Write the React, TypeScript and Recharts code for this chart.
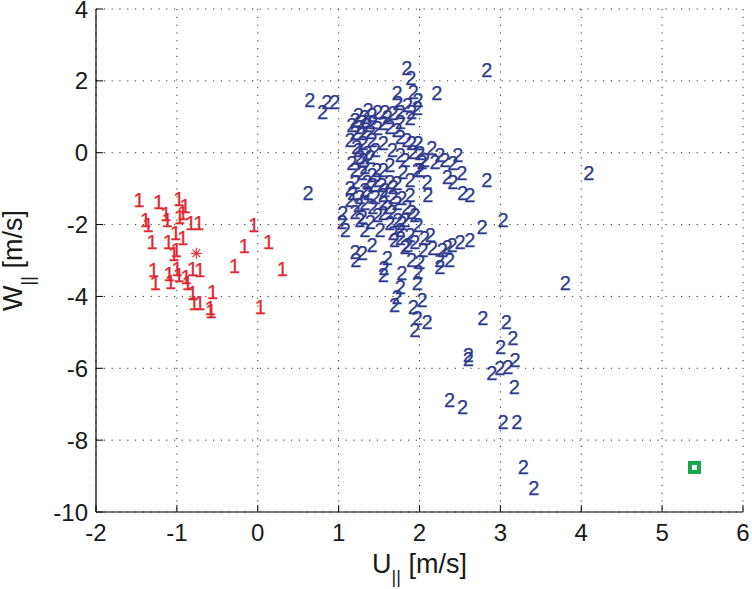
import React from "react";
import { ScatterChart, Scatter, XAxis, YAxis, CartesianGrid } from "recharts";

const xTicks = [-2, -1, 0, 1, 2, 3, 4, 5, 6];
const yTicks = [-10, -8, -6, -4, -2, 0, 2, 4];

// cluster "1" (u, w)
const group1: [number, number][] = [
  [-1.53, -1.3], [-1.29, -1.36], [-1.04, -1.27], [-0.96, -1.48], [-1.45, -1.87],
  [-1.42, -2.01], [-1.2, -1.69], [-1.18, -1.87], [-1.03, -1.78], [-0.99, -1.68],
  [-0.89, -1.96], [-0.79, -1.96], [-1.37, -2.48], [-1.17, -2.48], [-1.08, -2.24],
  [-0.99, -2.38], [-1.1, -2.8], [-1.07, -2.71], [-1.35, -3.26], [-1.33, -3.62],
  [-1.16, -3.36], [-1.14, -3.59], [-1.06, -3.22], [-1.04, -3.4], [-0.95, -3.45],
  [-0.93, -3.63], [-0.87, -3.24], [-0.78, -3.26], [-0.87, -3.91], [-0.85, -4.19],
  [-0.78, -4.19], [-0.62, -3.87], [-0.65, -4.33], [-0.64, -4.4], [-0.11, -2.01],
  [-0.23, -2.6], [0.07, -2.48], [-0.35, -3.15], [0.24, -3.22], [-0.03, -4.29],
];

// cluster "2" (u, w)
const group2: [number, number][] = [
  [1.78, 2.36], [1.83, 2.08], [2.77, 2.3], [2.15, 1.66], [1.66, 1.66], [1.86, 1.69],
  [1.92, 1.47], [0.58, 1.47], [0.79, 1.41], [0.89, 1.41], [0.74, 1.13], [1.67, 1.38],
  [1.79, 1.33], [1.91, 1.24], [1.14, 0.91], [1.26, 0.99], [1.35, 1.05], [1.2, 0.72],
  [1.29, 0.77], [1.36, 0.86], [1.54, 0.99], [1.61, 1.11], [1.7, 1.13], [1.84, 1.13],
  [1.7, 0.86], [1.82, 0.97], [1.49, 0.83], [1.57, 0.72], [1.66, 0.63], [1.14, 0.55],
  [1.24, 0.55], [1.33, 0.58], [1.49, 0.27], [1.7, 0.44], [1.78, 0.35], [1.84, 0.27],
  [1.92, 0.27], [1.24, 0.27], [1.29, -0.01], [1.7, -0.06], [1.86, 0.02], [1.94, -0.01],
  [1.97, -0.26], [2.09, 0.13], [2.19, -0.06], [2.13, -0.26], [2.25, -0.2], [2.41, -0.06],
  [2.35, -0.29], [2.46, -0.56], [2.28, -0.68], [2.35, -0.81], [2.47, -1.12], [2.56, -1.18],
  [2.77, -0.76], [2.03, -0.81], [1.91, -0.48], [1.24, -0.2], [1.33, -0.12], [1.26, -0.4],
  [1.14, -0.48], [1.23, -0.56], [1.41, -0.48], [1.49, -0.48], [1.14, -0.81], [1.29, -0.81],
  [1.41, -0.76], [1.57, -0.81], [1.66, -0.84], [1.94, -0.48], [1.36, -0.9], [1.47, -0.9],
  [1.61, -0.95], [1.11, -1.12], [1.2, -1.23], [1.3, -1.12], [1.39, -1.23], [1.49, -1.18],
  [1.61, -1.23], [1.72, -1.26], [1.82, -1.18], [1.18, -1.46], [1.26, -1.4], [1.36, -1.51],
  [1.49, -1.4], [1.55, -1.51], [1.66, -1.4], [1.78, -1.51], [1.84, -1.65], [1.88, -1.73],
  [1.14, -1.65], [1.23, -1.79], [1.2, -1.87], [1.33, -1.93], [1.49, -1.68], [1.57, -1.96],
  [1.67, -1.87], [1.72, -1.96], [0.99, -1.68], [0.98, -1.93], [1.02, -2.15], [1.61, -2.23],
  [1.7, -2.15], [1.7, -2.37], [1.82, -2.29], [1.76, -2.62], [1.88, -2.48], [2.07, -2.29],
  [1.98, -2.71], [2.1, -2.65], [2.22, -2.71], [2.28, -2.62], [1.14, -2.76], [1.23, -2.79],
  [1.35, -2.57], [1.54, -2.93], [1.84, -2.99], [1.94, -3.04], [2.19, -2.99], [0.56, -1.12],
  [2.97, -1.87], [2.71, -2.07], [2.56, -2.43], [2.44, -2.48], [2.34, -2.57], [2.31, -2.99],
  [2.19, -3.18], [1.15, -2.99], [1.49, -3.4], [1.5, -3.21], [1.72, -3.35], [1.92, -3.32],
  [1.91, -3.63], [1.7, -3.74], [1.66, -4.02], [1.63, -4.24], [1.97, -4.1], [1.86, -4.29],
  [1.91, -4.6], [2.03, -4.71], [1.88, -4.93], [3.74, -3.63], [2.72, -4.6], [3.01, -4.71],
  [3.09, -5.16], [2.94, -5.41], [2.54, -5.63], [2.54, -5.74], [3.12, -5.77], [3.03, -5.96],
  [2.93, -5.99], [2.83, -6.13], [3.11, -6.52], [2.31, -6.88], [2.47, -7.08], [2.97, -7.49],
  [3.14, -7.49], [3.22, -8.75], [3.35, -9.33], [4.03, -0.56], [1.42, 1.13], [1.51, 1.13],
  [1.18, 0.08], [1.18, 1.05], [1.23, 0.86], [1.3, 1.19], [1.1, 0.77], [1.42, 0.69],
  [1.08, 0.35], [1.16, 0.16], [1.35, 0.35], [1.39, 0.08], [1.2, -0.12], [1.1, -0.29],
  [1.35, -0.62], [1.08, -0.98], [1.26, -1.04], [1.51, -1.04], [1.08, -1.32], [1.42, -1.73],
  [1.6, -1.65], [1.76, -1.87], [1.63, -2.43], [1.79, -2.57], [1.45, -2.15], [1.26, -2.15],
  [1.57, -0.34], [1.73, -0.54], [1.82, -0.76], [1.76, -0.2], [1.6, 0.08], [2.0, -0.2],
  [2.04, -1.18], [1.92, -2.01], [2.0, -2.37],
];

const centroid1: [number, number][] = [[-0.76, -2.8]];
const target: [number, number][] = [[5.4, -8.76]];

const toPts = (arr: [number, number][]) => arr.map(([u, w]) => ({ u, w }));

const RED = "#e2262e";
const BLUE = "#2d3a8e";
const GREEN = "#14a84b";
const FONT = "'Liberation Sans', Arial, Helvetica, sans-serif";

const makeLabel = (color: string, ch: string) => (props: any) => {
  const { cx, cy } = props;
  if (cx == null || cy == null) return <g />;
  return (
    <text
      x={cx - 0.5}
      y={cy}
      dy="0.36em"
      fill={color}
      stroke={color}
      strokeWidth={0.25}
      fontSize={20}
      fontFamily={FONT}
    >
      {ch}
    </text>
  );
};

const Asterisk = (props: any) => {
  const { cx, cy } = props;
  const r = 5.5;
  const d = 3.9;
  return (
    <g stroke={RED} strokeWidth={1.1}>
      <line x1={cx - r} y1={cy} x2={cx + r} y2={cy} />
      <line x1={cx} y1={cy - r} x2={cx} y2={cy + r} />
      <line x1={cx - d} y1={cy - d} x2={cx + d} y2={cy + d} />
      <line x1={cx - d} y1={cy + d} x2={cx + d} y2={cy - d} />
    </g>
  );
};

const SquareMark = (props: any) => {
  const { cx, cy } = props;
  return (
    <rect x={cx - 4.5} y={cy - 4.5} width={9} height={9} fill="#fff" stroke={GREEN} strokeWidth={4} />
  );
};

const XTick = (p: any) => (
  <g>
    <line x1={p.x} y1={p.y} x2={p.x} y2={p.y - 7} stroke="#000" strokeWidth={1} />
    <text x={p.x} y={p.y + 29} textAnchor="middle" fontSize={24} fontFamily={FONT} fill="#1a1a1a">
      {p.payload.value}
    </text>
  </g>
);

const YTick = (p: any) => (
  <g>
    <line x1={p.x} y1={p.y} x2={p.x + 7} y2={p.y} stroke="#000" strokeWidth={1} />
    <text x={p.x - 8} y={p.y + 8.5} textAnchor="end" fontSize={24} fontFamily={FONT} fill="#1a1a1a">
      {p.payload.value}
    </text>
  </g>
);

const XLabel = (props: any) => {
  const vb = props.viewBox || {};
  const cx = vb.x + vb.width / 2;
  const y = vb.y + 61;
  return (
    <text x={cx} y={y} textAnchor="middle" fontSize={27} fontFamily={FONT} fill="#1a1a1a">
      U
      <tspan dy={10} fontSize={18}>||</tspan>
      <tspan dy={-10}> [m/s]</tspan>
    </text>
  );
};

const YLabel = (props: any) => {
  const vb = props.viewBox || {};
  const x = vb.x + 22;
  const cy = vb.y + vb.height / 2;
  return (
    <text
      x={x}
      y={cy}
      transform={`rotate(-90, ${x}, ${cy})`}
      textAnchor="middle"
      fontSize={27}
      fontFamily={FONT}
      fill="#1a1a1a"
    >
      W
      <tspan dy={12} fontSize={18}>||</tspan>
      <tspan dy={-12}> [m/s]</tspan>
    </text>
  );
};

export default function App() {
  return (
    <div style={{ position: "absolute", left: 0, top: 0, width: 752, height: 589, background: "#fff" }}>
      <ScatterChart width={752} height={589} margin={{ top: 9, right: 9, bottom: 0, left: 0 }}>
        <CartesianGrid stroke="#333" strokeDasharray="1.2 6.6" strokeWidth={1} />
        <XAxis
          type="number"
          dataKey="u"
          domain={[-2, 6]}
          ticks={xTicks}
          interval={0}
          height={77}
          tickSize={0}
          tickMargin={0}
          tickLine={false}
          tick={<XTick />}
          axisLine={{ stroke: "#000", strokeWidth: 1.2 }}
          allowDataOverflow
          label={<XLabel />}
        />
        <YAxis
          type="number"
          dataKey="w"
          domain={[-10, 4]}
          ticks={yTicks}
          interval={0}
          width={96}
          tickSize={0}
          tickMargin={0}
          tickLine={false}
          tick={<YTick />}
          axisLine={{ stroke: "#000", strokeWidth: 1.2 }}
          allowDataOverflow
          label={<YLabel />}
        />
        <Scatter data={toPts(group1)} shape={makeLabel(RED, "1")} isAnimationActive={false} />
        <Scatter data={toPts(group2)} shape={makeLabel(BLUE, "2")} isAnimationActive={false} />
        <Scatter data={toPts(centroid1)} shape={<Asterisk />} isAnimationActive={false} />
        <Scatter data={toPts(target)} shape={<SquareMark />} isAnimationActive={false} />
      </ScatterChart>
    </div>
  );
}
